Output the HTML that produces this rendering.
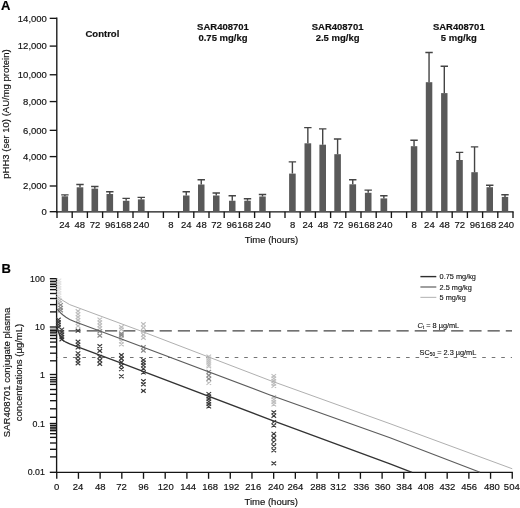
<!DOCTYPE html>
<html lang="en"><head><meta charset="utf-8"><title>SAR408701 pharmacodynamics and pharmacokinetics</title>
<style>
html,body{margin:0;padding:0;background:#fff;}
body{width:520px;height:508px;overflow:hidden;}
svg{display:block;filter:blur(0.35px);font-family:"Liberation Sans", sans-serif;fill:#111;}
text{stroke:#111;stroke-width:0.16px;}
.t{font-size:9.5px;}
.b{font-size:9.5px;font-weight:bold;}
.p{font-size:13px;font-weight:bold;fill:#000;stroke-width:0.2px;}
.s{font-size:7.35px;stroke-width:0.12px;}
.ax{stroke:#151515;stroke-width:1.35;fill:none;}
.bar{fill:#595959;}
.eb{stroke:#444;stroke-width:1.4;fill:none;}
</style></head><body>
<svg width="520" height="508" viewBox="0 0 520 508">
<rect width="520" height="508" fill="#fff"/>

<g id="panelA">
<text class="p" x="1" y="10.4">A</text>
<path class="ax" d="M56.8 17.60V212.40"/>
<path class="ax" d="M49.7 211.70H56.8"/>
<text class="t" x="46.9" y="215.00" text-anchor="end">0</text>
<path class="ax" d="M49.7 186.00H56.8"/>
<text class="t" x="46.9" y="189.30" text-anchor="end">2,000</text>
<path class="ax" d="M49.7 156.60H56.8"/>
<text class="t" x="46.9" y="159.90" text-anchor="end">4,000</text>
<path class="ax" d="M49.7 130.35H56.8"/>
<text class="t" x="46.9" y="133.65" text-anchor="end">6,000</text>
<path class="ax" d="M49.7 101.57H56.8"/>
<text class="t" x="46.9" y="104.87" text-anchor="end">8,000</text>
<path class="ax" d="M49.7 74.76H56.8"/>
<text class="t" x="46.9" y="78.06" text-anchor="end">10,000</text>
<path class="ax" d="M49.7 46.10H56.8"/>
<text class="t" x="46.9" y="49.40" text-anchor="end">12,000</text>
<path class="ax" d="M49.7 18.35H56.8"/>
<text class="t" x="46.9" y="21.65" text-anchor="end">14,000</text>
<text class="t" transform="translate(9.4 114) rotate(-90)" text-anchor="middle">pHH3 (ser 10) (AU/mg protein)</text>
<path class="ax" d="M56.199999999999996 211.8H513.60"/>
<path class="ax" d="M57.00 211.8V218"/>
<path class="ax" d="M72.20 211.8V218"/>
<path class="ax" d="M87.40 211.8V218"/>
<path class="ax" d="M102.60 211.8V218"/>
<path class="ax" d="M117.80 211.8V218"/>
<path class="ax" d="M133.00 211.8V218"/>
<path class="ax" d="M148.20 211.8V218"/>
<path class="ax" d="M163.40 211.8V218"/>
<path class="ax" d="M178.60 211.8V218"/>
<path class="ax" d="M193.80 211.8V218"/>
<path class="ax" d="M209.00 211.8V218"/>
<path class="ax" d="M224.20 211.8V218"/>
<path class="ax" d="M239.40 211.8V218"/>
<path class="ax" d="M254.60 211.8V218"/>
<path class="ax" d="M269.80 211.8V218"/>
<path class="ax" d="M285.00 211.8V218"/>
<path class="ax" d="M300.20 211.8V218"/>
<path class="ax" d="M315.40 211.8V218"/>
<path class="ax" d="M330.60 211.8V218"/>
<path class="ax" d="M345.80 211.8V218"/>
<path class="ax" d="M361.00 211.8V218"/>
<path class="ax" d="M376.20 211.8V218"/>
<path class="ax" d="M391.40 211.8V218"/>
<path class="ax" d="M406.60 211.8V218"/>
<path class="ax" d="M421.80 211.8V218"/>
<path class="ax" d="M437.00 211.8V218"/>
<path class="ax" d="M452.20 211.8V218"/>
<path class="ax" d="M467.40 211.8V218"/>
<path class="ax" d="M482.60 211.8V218"/>
<path class="ax" d="M497.80 211.8V218"/>
<path class="ax" d="M513.00 211.8V218"/>
<text class="t" x="64.60" y="228.2" text-anchor="middle">24</text>
<text class="t" x="79.80" y="228.2" text-anchor="middle">48</text>
<text class="t" x="95.00" y="228.2" text-anchor="middle">72</text>
<text class="t" x="110.20" y="228.2" text-anchor="middle">96</text>
<text class="t" x="123.60" y="228.2" text-anchor="middle">168</text>
<text class="t" x="141.30" y="228.2" text-anchor="middle">240</text>
<text class="t" x="171.00" y="228.2" text-anchor="middle">8</text>
<text class="t" x="186.20" y="228.2" text-anchor="middle">24</text>
<text class="t" x="201.40" y="228.2" text-anchor="middle">48</text>
<text class="t" x="216.60" y="228.2" text-anchor="middle">72</text>
<text class="t" x="231.80" y="228.2" text-anchor="middle">96</text>
<text class="t" x="245.20" y="228.2" text-anchor="middle">168</text>
<text class="t" x="262.90" y="228.2" text-anchor="middle">240</text>
<text class="t" x="292.60" y="228.2" text-anchor="middle">8</text>
<text class="t" x="307.80" y="228.2" text-anchor="middle">24</text>
<text class="t" x="323.00" y="228.2" text-anchor="middle">48</text>
<text class="t" x="338.20" y="228.2" text-anchor="middle">72</text>
<text class="t" x="353.40" y="228.2" text-anchor="middle">96</text>
<text class="t" x="366.80" y="228.2" text-anchor="middle">168</text>
<text class="t" x="384.50" y="228.2" text-anchor="middle">240</text>
<text class="t" x="414.20" y="228.2" text-anchor="middle">8</text>
<text class="t" x="429.40" y="228.2" text-anchor="middle">24</text>
<text class="t" x="444.60" y="228.2" text-anchor="middle">48</text>
<text class="t" x="459.80" y="228.2" text-anchor="middle">72</text>
<text class="t" x="475.00" y="228.2" text-anchor="middle">96</text>
<text class="t" x="488.40" y="228.2" text-anchor="middle">168</text>
<text class="t" x="506.10" y="228.2" text-anchor="middle">240</text>
<text class="t" x="271.5" y="242.9" text-anchor="middle">Time (hours)</text>
<text class="b" x="102.4" y="36.5" text-anchor="middle">Control</text>
<text class="b" x="223" y="29.8" text-anchor="middle">SAR408701</text>
<text class="b" x="223" y="41.3" text-anchor="middle">0.75 mg/kg</text>
<text class="b" x="337.6" y="29.8" text-anchor="middle">SAR408701</text>
<text class="b" x="337.6" y="41.3" text-anchor="middle">2.5 mg/kg</text>
<text class="b" x="458.8" y="29.8" text-anchor="middle">SAR408701</text>
<text class="b" x="458.8" y="41.3" text-anchor="middle">5 mg/kg</text>
<rect class="bar" x="61.70" y="196.30" width="6.40" height="15.50"/>
<path class="eb" d="M64.90 196.30V194.90M61.20 194.90H68.60"/>
<rect class="bar" x="76.70" y="187.30" width="6.60" height="24.50"/>
<path class="eb" d="M80.00 187.30V184.50M76.30 184.50H83.70"/>
<rect class="bar" x="91.50" y="188.65" width="6.60" height="23.15"/>
<path class="eb" d="M94.80 188.65V186.50M91.10 186.50H98.50"/>
<rect class="bar" x="106.50" y="194.00" width="6.60" height="17.80"/>
<path class="eb" d="M109.80 194.00V191.80M106.10 191.80H113.50"/>
<rect class="bar" x="122.90" y="200.80" width="6.50" height="11.00"/>
<path class="eb" d="M126.15 200.80V198.40M122.45 198.40H129.85"/>
<rect class="bar" x="137.90" y="199.40" width="6.70" height="12.40"/>
<path class="eb" d="M141.25 199.40V197.40M137.55 197.40H144.95"/>
<rect class="bar" x="183.00" y="195.50" width="6.50" height="16.30"/>
<path class="eb" d="M186.25 195.50V191.75M182.55 191.75H189.95"/>
<rect class="bar" x="198.00" y="184.50" width="6.50" height="27.30"/>
<path class="eb" d="M201.25 184.50V179.75M197.55 179.75H204.95"/>
<rect class="bar" x="213.00" y="195.50" width="6.50" height="16.30"/>
<path class="eb" d="M216.25 195.50V193.00M212.55 193.00H219.95"/>
<rect class="bar" x="229.00" y="200.75" width="6.50" height="11.05"/>
<path class="eb" d="M232.25 200.75V195.75M228.55 195.75H235.95"/>
<rect class="bar" x="244.25" y="200.75" width="6.50" height="11.05"/>
<path class="eb" d="M247.50 200.75V198.75M243.80 198.75H251.20"/>
<rect class="bar" x="259.25" y="196.50" width="6.50" height="15.30"/>
<path class="eb" d="M262.50 196.50V194.50M258.80 194.50H266.20"/>
<rect class="bar" x="289.10" y="173.60" width="6.60" height="38.20"/>
<path class="eb" d="M292.40 173.60V161.90M288.70 161.90H296.10"/>
<rect class="bar" x="304.50" y="143.30" width="6.70" height="68.50"/>
<path class="eb" d="M307.85 143.30V127.60M304.15 127.60H311.55"/>
<rect class="bar" x="319.40" y="144.70" width="6.60" height="67.10"/>
<path class="eb" d="M322.70 144.70V128.90M319.00 128.90H326.40"/>
<rect class="bar" x="334.30" y="154.20" width="6.60" height="57.60"/>
<path class="eb" d="M337.60 154.20V139.00M333.90 139.00H341.30"/>
<rect class="bar" x="349.40" y="184.30" width="6.70" height="27.50"/>
<path class="eb" d="M352.75 184.30V179.70M349.05 179.70H356.45"/>
<rect class="bar" x="364.90" y="192.80" width="6.60" height="19.00"/>
<path class="eb" d="M368.20 192.80V190.10M364.50 190.10H371.90"/>
<rect class="bar" x="380.50" y="198.40" width="6.70" height="13.40"/>
<path class="eb" d="M383.85 198.40V195.70M380.15 195.70H387.55"/>
<rect class="bar" x="410.80" y="146.20" width="6.50" height="65.60"/>
<path class="eb" d="M414.05 146.20V140.20M410.35 140.20H417.75"/>
<rect class="bar" x="425.80" y="82.20" width="6.50" height="129.60"/>
<path class="eb" d="M429.05 82.20V52.50M425.35 52.50H432.75"/>
<rect class="bar" x="441.10" y="93.10" width="6.40" height="118.70"/>
<path class="eb" d="M444.30 93.10V66.30M440.60 66.30H448.00"/>
<rect class="bar" x="456.30" y="160.00" width="6.50" height="51.80"/>
<path class="eb" d="M459.55 160.00V152.40M455.85 152.40H463.25"/>
<rect class="bar" x="471.30" y="172.20" width="6.50" height="39.60"/>
<path class="eb" d="M474.55 172.20V146.90M470.85 146.90H478.25"/>
<rect class="bar" x="486.50" y="187.20" width="6.50" height="24.60"/>
<path class="eb" d="M489.75 187.20V185.20M486.05 185.20H493.45"/>
<rect class="bar" x="501.80" y="196.90" width="6.40" height="14.90"/>
<path class="eb" d="M505.00 196.90V194.70M501.30 194.70H508.70"/>
</g>
<g id="panelB">
<text class="p" x="1.6" y="273.4">B</text>
<path class="ax" d="M56.6 278.09999999999997V472.90000000000003"/>
<path class="ax" d="M49.8 278.7H56.6"/>
<text class="t" style="font-size:8.8px" x="44.8" y="281.80" text-anchor="end">100</text>
<path class="ax" d="M49.8 327.0H56.6"/>
<text class="t" style="font-size:8.8px" x="44.8" y="330.10" text-anchor="end">10</text>
<path class="ax" d="M49.8 374.5H56.6"/>
<text class="t" style="font-size:8.8px" x="44.8" y="377.60" text-anchor="end">1</text>
<path class="ax" d="M49.8 423.5H56.6"/>
<text class="t" style="font-size:8.8px" x="44.8" y="426.60" text-anchor="end">0.1</text>
<path class="ax" d="M49.8 472.3H56.6"/>
<text class="t" style="font-size:8.8px" x="44.8" y="475.40" text-anchor="end">0.01</text>
<path class="ax" style="stroke:#777" d="M50 283.1H56.6"/>
<path class="ax" style="stroke:#777" d="M50 329.2H56.6"/>
<path class="ax" style="stroke:#777" d="M50 333.7H56.6"/>
<path class="ax" d="M50 281.3H56.6"/>
<path class="ax" d="M50 284.5H56.6"/>
<path class="ax" d="M50 286.6H56.6"/>
<path class="ax" d="M50 289.6H56.6"/>
<path class="ax" d="M50 293.5H56.6"/>
<path class="ax" d="M50 298.5H56.6"/>
<path class="ax" d="M50 304.6H56.6"/>
<path class="ax" d="M50 311.9H56.6"/>
<path class="ax" d="M50 330.6H56.6"/>
<path class="ax" d="M50 332.2H56.6"/>
<path class="ax" d="M50 335.5H56.6"/>
<path class="ax" d="M50 338.5H56.6"/>
<path class="ax" d="M50 342.1H56.6"/>
<path class="ax" d="M50 346.9H56.6"/>
<path class="ax" d="M50 353.2H56.6"/>
<path class="ax" d="M50 360.8H56.6"/>
<path class="ax" d="M50 377.5H56.6"/>
<path class="ax" d="M50 379.8H56.6"/>
<path class="ax" d="M50 381.8H56.6"/>
<path class="ax" d="M50 384.4H56.6"/>
<path class="ax" d="M50 389.5H56.6"/>
<path class="ax" d="M50 394.3H56.6"/>
<path class="ax" d="M50 400.7H56.6"/>
<path class="ax" d="M50 408.8H56.6"/>
<path class="ax" d="M50 417.3H56.6"/>
<path class="ax" d="M50 425.4H56.6"/>
<path class="ax" d="M50 427.2H56.6"/>
<path class="ax" d="M50 428.9H56.6"/>
<path class="ax" d="M50 430.7H56.6"/>
<path class="ax" d="M50 433.7H56.6"/>
<path class="ax" d="M50 437.4H56.6"/>
<path class="ax" d="M50 443H56.6"/>
<path class="ax" d="M50 449.3H56.6"/>
<path class="ax" d="M50 456.9H56.6"/>
<text class="t" style="font-size:9.6px" transform="translate(10.3 372.4) rotate(-90)" text-anchor="middle">SAR408701 conjugate plasma</text>
<text class="t" transform="translate(21.5 372.5) rotate(-90)" text-anchor="middle">concentrations (µg/mL)</text>
<path class="ax" d="M56.0 472.3H512.85"/>
<path class="ax" d="M56.75 472.3V478.8"/>
<text class="t" x="56.60" y="490.0" text-anchor="middle">0</text>
<path class="ax" d="M78.44 472.3V478.8"/>
<text class="t" x="78.05" y="490.0" text-anchor="middle">24</text>
<path class="ax" d="M100.13 472.3V478.8"/>
<text class="t" x="100.20" y="490.0" text-anchor="middle">48</text>
<path class="ax" d="M121.82 472.3V478.8"/>
<text class="t" x="121.60" y="490.0" text-anchor="middle">72</text>
<path class="ax" d="M143.51 472.3V478.8"/>
<text class="t" x="143.50" y="490.0" text-anchor="middle">96</text>
<path class="ax" d="M165.20 472.3V478.8"/>
<text class="t" x="165.75" y="490.0" text-anchor="middle">120</text>
<path class="ax" d="M186.89 472.3V478.8"/>
<text class="t" x="188.20" y="490.0" text-anchor="middle">144</text>
<path class="ax" d="M208.58 472.3V478.8"/>
<text class="t" x="210.10" y="490.0" text-anchor="middle">168</text>
<path class="ax" d="M230.27 472.3V478.8"/>
<text class="t" x="231.40" y="490.0" text-anchor="middle">192</text>
<path class="ax" d="M251.96 472.3V478.8"/>
<text class="t" x="253.25" y="490.0" text-anchor="middle">216</text>
<path class="ax" d="M273.65 472.3V478.8"/>
<text class="t" x="276.00" y="490.0" text-anchor="middle">240</text>
<path class="ax" d="M295.35 472.3V478.8"/>
<text class="t" x="295.40" y="490.0" text-anchor="middle">264</text>
<path class="ax" d="M317.04 472.3V478.8"/>
<text class="t" x="318.10" y="490.0" text-anchor="middle">288</text>
<path class="ax" d="M338.73 472.3V478.8"/>
<text class="t" x="338.30" y="490.0" text-anchor="middle">312</text>
<path class="ax" d="M360.42 472.3V478.8"/>
<text class="t" x="361.40" y="490.0" text-anchor="middle">336</text>
<path class="ax" d="M382.11 472.3V478.8"/>
<text class="t" x="382.60" y="490.0" text-anchor="middle">360</text>
<path class="ax" d="M403.80 472.3V478.8"/>
<text class="t" x="404.30" y="490.0" text-anchor="middle">384</text>
<path class="ax" d="M425.49 472.3V478.8"/>
<text class="t" x="425.80" y="490.0" text-anchor="middle">408</text>
<path class="ax" d="M447.18 472.3V478.8"/>
<text class="t" x="447.40" y="490.0" text-anchor="middle">432</text>
<path class="ax" d="M468.87 472.3V478.8"/>
<text class="t" x="469.10" y="490.0" text-anchor="middle">456</text>
<path class="ax" d="M490.56 472.3V478.8"/>
<text class="t" x="491.90" y="490.0" text-anchor="middle">480</text>
<path class="ax" d="M512.25 472.3V478.8"/>
<text class="t" x="511.80" y="490.0" text-anchor="middle">504</text>
<text class="t" x="271.3" y="505" text-anchor="middle">Time (hours)</text>
<path d="M57 330.85H512" stroke="#444" stroke-width="1.2" stroke-dasharray="12.2 6.02" stroke-dashoffset="6.7" fill="none"/>
<path d="M57 357.5H512" stroke="#747474" stroke-width="1.2" stroke-dasharray="3.6 5.92" stroke-dashoffset="3.2" fill="none"/>
<text class="s" x="417.5" y="327.6"><tspan font-style="italic">C</tspan><tspan font-size="4.8" dy="1.2">t</tspan><tspan dy="-1.2"> = 8 µg/mL</tspan></text>
<text class="s" x="419.6" y="354.6">SC<tspan font-size="4.8" dy="1.2">50</tspan><tspan dy="-1.2"> = 2.3 µg/mL</tspan></text>
<path d="M56.70 278.60L61.30 282.40M56.70 282.40L61.30 278.60M56.70 281.10L61.30 284.90M56.70 284.90L61.30 281.10M56.70 283.60L61.30 287.40M56.70 287.40L61.30 283.60M56.70 286.10L61.30 289.90M56.70 289.90L61.30 286.10M56.70 288.60L61.30 292.40M56.70 292.40L61.30 288.60M56.70 291.10L61.30 294.90M56.70 294.90L61.30 291.10M56.70 293.60L61.30 297.40M56.70 297.40L61.30 293.60M56.70 296.10L61.30 299.90M56.70 299.90L61.30 296.10" stroke="#e2e2e2" stroke-width="1.15" fill="none"/>
<path d="M57.30 298.60L61.90 302.40M57.30 302.40L61.90 298.60M57.30 301.10L61.90 304.90M57.30 304.90L61.90 301.10M75.70 309.30L80.30 313.10M75.70 313.10L80.30 309.30M75.70 312.30L80.30 316.10M75.70 316.10L80.30 312.30M75.70 315.20L80.30 319.00M75.70 319.00L80.30 315.20M75.70 318.20L80.30 322.00M75.70 322.00L80.30 318.20M75.70 321.10L80.30 324.90M75.70 324.90L80.30 321.10M75.70 324.10L80.30 327.90M75.70 327.90L80.30 324.10M97.50 317.60L102.10 321.40M97.50 321.40L102.10 317.60M97.50 320.50L102.10 324.30M97.50 324.30L102.10 320.50M97.50 323.50L102.10 327.30M97.50 327.30L102.10 323.50M97.50 326.40L102.10 330.20M97.50 330.20L102.10 326.40M119.10 325.20L123.70 329.00M119.10 329.00L123.70 325.20M119.10 327.60L123.70 331.40M119.10 331.40L123.70 327.60M119.10 336.40L123.70 340.20M119.10 340.20L123.70 336.40M119.10 339.40L123.70 343.20M119.10 343.20L123.70 339.40M119.10 342.40L123.70 346.20M119.10 346.20L123.70 342.40M141.10 322.30L145.70 326.10M141.10 326.10L145.70 322.30M141.10 325.80L145.70 329.60M141.10 329.60L145.70 325.80M141.10 329.40L145.70 333.20M141.10 333.20L145.70 329.40M141.10 332.90L145.70 336.70M141.10 336.70L145.70 332.90M141.10 335.90L145.70 339.70M141.10 339.70L145.70 335.90M206.50 354.60L211.10 358.40M206.50 358.40L211.10 354.60M206.50 356.60L211.10 360.40M206.50 360.40L211.10 356.60M206.50 358.60L211.10 362.40M206.50 362.40L211.10 358.60M206.50 360.60L211.10 364.40M206.50 364.40L211.10 360.60M206.50 362.60L211.10 366.40M206.50 366.40L211.10 362.60M206.50 364.40L211.10 368.20M206.50 368.20L211.10 364.40M206.50 381.10L211.10 384.90M206.50 384.90L211.10 381.10M271.50 374.10L276.10 377.90M271.50 377.90L276.10 374.10M271.50 376.60L276.10 380.40M271.50 380.40L276.10 376.60M271.50 379.10L276.10 382.90M271.50 382.90L276.10 379.10M271.50 381.60L276.10 385.40M271.50 385.40L276.10 381.60M271.50 384.10L276.10 387.90M271.50 387.90L276.10 384.10M271.50 395.10L276.10 398.90M271.50 398.90L276.10 395.10M271.50 397.60L276.10 401.40M271.50 401.40L276.10 397.60M271.50 400.10L276.10 403.90M271.50 403.90L276.10 400.10M271.50 402.60L276.10 406.40M271.50 406.40L276.10 402.60" stroke="#bebebe" stroke-width="1.15" fill="none"/>
<path d="M58.30 303.10L62.90 306.90M58.30 306.90L62.90 303.10M58.30 306.00L62.90 309.80M58.30 309.80L62.90 306.00M58.30 308.40L62.90 312.20M58.30 312.20L62.90 308.40M97.50 329.40L102.10 333.20M97.50 333.20L102.10 329.40M97.50 333.70L102.10 337.50M97.50 337.50L102.10 333.70M119.10 331.70L123.70 335.50M119.10 335.50L123.70 331.70M119.10 333.50L123.70 337.30M119.10 337.30L123.70 333.50M141.10 345.30L145.70 349.10M141.10 349.10L145.70 345.30M141.10 348.70L145.70 352.50M141.10 352.50L145.70 348.70M206.50 369.90L211.10 373.70M206.50 373.70L211.10 369.90M206.50 373.50L211.10 377.30M206.50 377.30L211.10 373.50M206.50 377.00L211.10 380.80M206.50 380.80L211.10 377.00" stroke="#8a8a8a" stroke-width="1.15" fill="none"/>
<path d="M56.10 317.80L60.70 321.60M56.10 321.60L60.70 317.80M56.10 320.20L60.70 324.00M56.10 324.00L60.70 320.20M56.10 322.70L60.70 326.50M56.10 326.50L60.70 322.70M56.10 325.10L60.70 328.90M56.10 328.90L60.70 325.10M59.50 327.60L64.10 331.40M59.50 331.40L64.10 327.60M59.50 330.10L64.10 333.90M59.50 333.90L64.10 330.10M59.50 332.50L64.10 336.30M59.50 336.30L64.10 332.50M59.50 335.00L64.10 338.80M59.50 338.80L64.10 335.00M59.50 337.50L64.10 341.30M59.50 341.30L64.10 337.50M75.70 328.80L80.30 332.60M75.70 332.60L80.30 328.80M75.70 339.80L80.30 343.60M75.70 343.60L80.30 339.80M75.70 342.70L80.30 346.50M75.70 346.50L80.30 342.70M75.70 345.60L80.30 349.40M75.70 349.40L80.30 345.60M75.70 351.40L80.30 355.20M75.70 355.20L80.30 351.40M75.70 354.90L80.30 358.70M75.70 358.70L80.30 354.90M75.70 358.50L80.30 362.30M75.70 362.30L80.30 358.50M75.70 361.40L80.30 365.20M75.70 365.20L80.30 361.40M97.50 344.20L102.10 348.00M97.50 348.00L102.10 344.20M97.50 349.00L102.10 352.80M97.50 352.80L102.10 349.00M97.50 354.90L102.10 358.70M97.50 358.70L102.10 354.90M97.50 358.50L102.10 362.30M97.50 362.30L102.10 358.50M97.50 362.00L102.10 365.80M97.50 365.80L102.10 362.00M119.10 353.20L123.70 357.00M119.10 357.00L123.70 353.20M119.10 356.70L123.70 360.50M119.10 360.50L123.70 356.70M119.10 360.30L123.70 364.10M119.10 364.10L123.70 360.30M119.10 363.80L123.70 367.60M119.10 367.60L123.70 363.80M119.10 367.30L123.70 371.10M119.10 371.10L123.70 367.30M119.10 374.40L123.70 378.20M119.10 378.20L123.70 374.40M141.10 358.10L145.70 361.90M141.10 361.90L145.70 358.10M141.10 360.80L145.70 364.60M141.10 364.60L145.70 360.80M141.10 363.50L145.70 367.30M141.10 367.30L145.70 363.50M141.10 366.80L145.70 370.60M141.10 370.60L145.70 366.80M141.10 370.60L145.70 374.40M141.10 374.40L145.70 370.60M141.10 379.20L145.70 383.00M141.10 383.00L145.70 379.20M141.10 382.50L145.70 386.30M141.10 386.30L145.70 382.50M141.10 389.00L145.70 392.80M141.10 392.80L145.70 389.00M206.50 392.10L211.10 395.90M206.50 395.90L211.10 392.10M206.50 394.60L211.10 398.40M206.50 398.40L211.10 394.60M206.50 397.10L211.10 400.90M206.50 400.90L211.10 397.10M206.50 399.60L211.10 403.40M206.50 403.40L211.10 399.60M206.50 402.10L211.10 405.90M206.50 405.90L211.10 402.10M206.50 404.60L211.10 408.40M206.50 408.40L211.10 404.60M271.50 410.50L276.10 414.30M271.50 414.30L276.10 410.50M271.50 413.90L276.10 417.70M271.50 417.70L276.10 413.90M271.50 420.10L276.10 423.90M271.50 423.90L276.10 420.10M271.50 423.60L276.10 427.40M271.50 427.40L276.10 423.60M271.50 431.90L276.10 435.70M271.50 435.70L276.10 431.90M271.50 436.00L276.10 439.80M271.50 439.80L276.10 436.00M271.50 440.10L276.10 443.90M271.50 443.90L276.10 440.10M271.50 444.30L276.10 448.10M271.50 448.10L276.10 444.30M271.50 448.40L276.10 452.20M271.50 452.20L276.10 448.40M271.50 461.50L276.10 465.30M271.50 465.30L276.10 461.50" stroke="#3d3d3d" stroke-width="1.15" fill="none"/>
<path d="M57.30 296.50 L60.00 298.60 L64.00 301.20 L69.70 304.60 L75.00 306.59 L140.00 330.70 L270.00 380.50 L390.00 423.70 L512.25 468.75" stroke="#b0b0b0" stroke-width="1.0" fill="none"/>
<path d="M57.30 309.20 L59.00 311.20 L61.00 313.30 L63.00 315.00 L66.00 317.30 L69.70 319.60 L75.00 321.77 L125.40 340.50 L270.00 395.00 L390.00 437.80 L480.00 472.30" stroke="#5c5c5c" stroke-width="1.15" fill="none"/>
<path d="M57.30 327.50 L58.50 332.00 L60.00 336.30 L62.00 339.20 L64.00 341.00 L66.00 342.20 L69.70 343.90 L75.00 345.81 L120.00 362.70 L270.00 419.60 L390.00 463.80 L412.00 472.30" stroke="#333" stroke-width="1.3" fill="none"/>
<path d="M420.4 276.6H436.3" stroke="#2e2e2e" stroke-width="1.4"/>
<text class="s" x="439.6" y="279.2">0.75 mg/kg</text>
<path d="M420.4 287H436.3" stroke="#6b6b6b" stroke-width="1.3"/>
<text class="s" x="439.6" y="289.6">2.5 mg/kg</text>
<path d="M420.4 297.4H436.3" stroke="#bdbdbd" stroke-width="1.2"/>
<text class="s" x="439.6" y="300.0">5 mg/kg</text>
</g>
</svg></body></html>
